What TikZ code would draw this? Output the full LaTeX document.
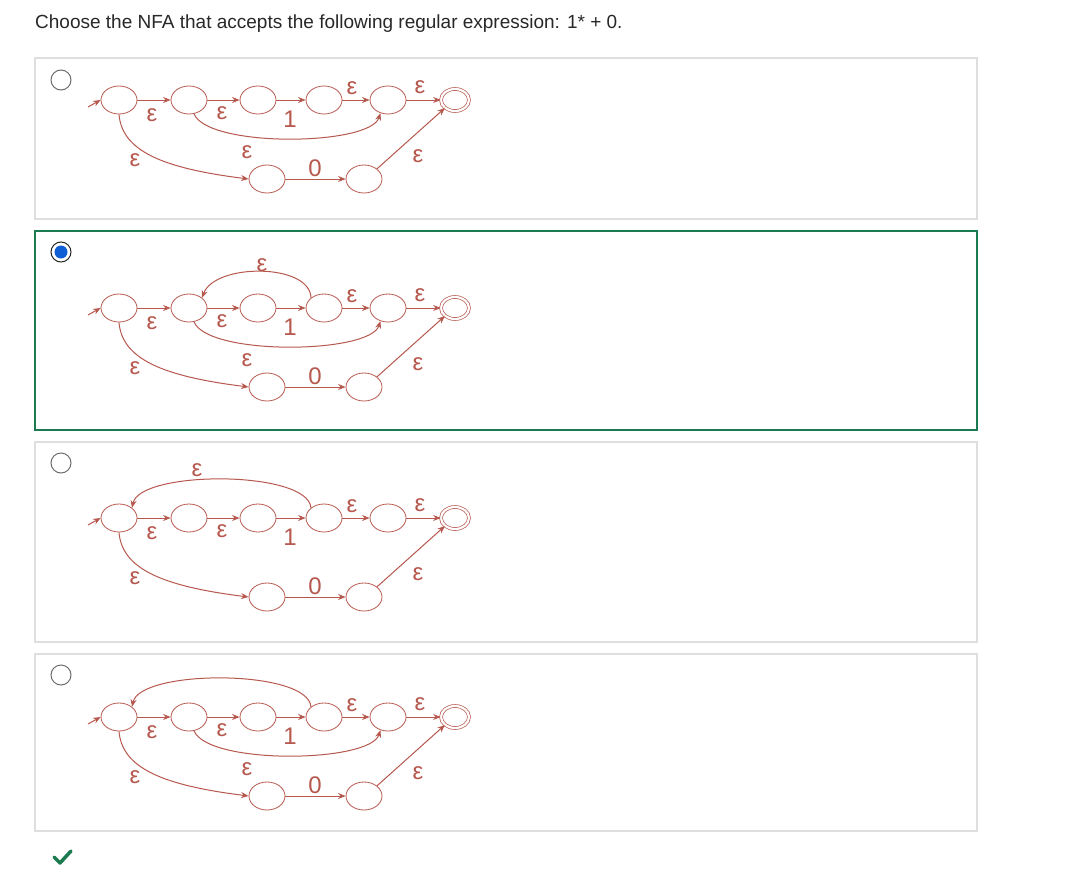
\documentclass[tikz,border=0pt]{standalone}
\usepackage{fontspec}
\setmainfont{Liberation Sans}
\usetikzlibrary{shapes.geometric,arrows.meta}
\definecolor{nfa}{RGB}{183,88,78}
\definecolor{boxgray}{RGB}{222,222,222}
\definecolor{okgreen}{RGB}{27,122,80}
\definecolor{radiogray}{RGB}{110,110,110}
\definecolor{radioblue}{RGB}{16,94,214}
\definecolor{txt}{RGB}{40,40,40}
\tikzset{
  st/.style={draw=nfa,line width=0.8pt,ellipse,minimum width=36pt,minimum height=28pt,inner sep=0pt},
  acc/.style={draw=nfa,line width=0.7pt,ellipse,double=white,double distance=2.2pt,minimum width=28pt,minimum height=22pt,inner sep=0pt},
  tr/.style={draw=nfa,line width=1pt,-{Stealth[length=7.5pt,width=6pt]}},
  lab/.style={text=nfa,font=\fontsize{24}{24}\selectfont,inner sep=0pt},
  optbox/.style={draw=boxgray,line width=1.2pt},
  radio/.style={circle,draw=radiogray,line width=1pt,minimum size=20pt,inner sep=0pt,fill=white},
}
\newcommand{\nfabase}[2]{%
  \begin{scope}[shift={(0,#2)}]
    \node[st] (#1q0) at (119,0) {};
    \node[st] (#1q1) at (189,0) {};
    \node[st] (#1q2) at (258,0) {};
    \node[st] (#1q3) at (324,0) {};
    \node[st] (#1q4) at (388,0) {};
    \node[acc] (#1q5) at (455,0) {};
    \node[st] (#1q6) at (267,79) {};
    \node[st] (#1q7) at (364,79) {};
    \coordinate (#1s) at (88,7);
    \draw[tr] (#1s) -- (#1q0.west);
    \draw[tr] (#1q0) -- (#1q1);
    \draw[tr] (#1q1) -- (#1q2);
    \draw[tr] (#1q2) -- (#1q3);
    \draw[tr] (#1q3) -- (#1q4);
    \draw[tr] (#1q4) -- (#1q5);
    \draw[tr] (#1q6) -- (#1q7);
    \draw[tr] (#1q7.north east) -- (#1q5.south west);
    \draw[tr] (#1q0.south) .. controls (122,50) and (160,68) .. (#1q6.west);
    \node[lab] (#1l01) at (152,15) {ε};
    \node[lab] (#1l12) at (222,13) {ε};
    \node[lab] (#1l23) at (290,19) {1};
    \node[lab] (#1l34) at (352,-12) {ε};
    \node[lab] (#1l45) at (420,-13) {ε};
    \node[lab] (#1l06) at (135,60) {ε};
    \node[lab] (#1l67) at (315,68) {0};
    \node[lab] (#1l75) at (418,56) {ε};
  \end{scope}}
\newcommand{\nfabypass}[2]{%
  \begin{scope}[shift={(0,#2)}]
    \draw[tr] (#1q1.-70) .. controls (208,48) and (370,46) .. (#1q4.-120);
    \node[lab] (#1lby) at (247,52) {ε};
  \end{scope}}
\begin{document}
\begin{tikzpicture}[x=1pt,y=-1pt]
\useasboundingbox (0,0) rectangle (1074,891);
\fill[white] (0,0) rectangle (1074,891);
\node[anchor=west,text=txt,font=\fontsize{19}{19}\selectfont,inner sep=0pt] (title) at (35,24) {Choose the NFA that accepts the following regular expression: 1* + 0.};
% option boxes
\draw[optbox] (35,58) rectangle (977,219);
\draw[draw=okgreen,line width=1.5pt] (35,231) rectangle (977,430);
\draw[optbox] (35,442) rectangle (977,642);
\draw[optbox] (35,654) rectangle (977,831);
% radio buttons
\node[radio] (r1) at (61,80) {};
\node[radio,draw=txt] (r2) at (61,252) {};
\fill[radioblue] (r2.center) circle (6.5pt);
\node[radio] (r3) at (61,463) {};
\node[radio] (r4) at (61,675) {};
% diagram 1
\nfabase{a}{100}
\nfabypass{a}{100}
% diagram 2
\nfabase{b}{308}
\nfabypass{b}{308}
\draw[tr] (bq3.north west) .. controls (310,263) and (215,263) .. (bq1.north east);
\node[lab] (blloop) at (262,265) {ε};
% diagram 3
\nfabase{c}{518}
\draw[tr] (cq3.north west) .. controls (308,470) and (140,470) .. (cq0.north east);
\node[lab] (clloop) at (197,470) {ε};
% diagram 4
\nfabase{d}{717}
\nfabypass{d}{717}
\draw[tr] (dq3.north west) .. controls (308,669) and (140,669) .. (dq0.north east);
% check mark
\coordinate (ck1) at (54,857);
\coordinate (ck2) at (60,863);
\coordinate (ck3) at (71,851);
\draw[okgreen,line width=3.5pt,line cap=round,line join=round] (ck1) -- (ck2) -- (ck3);
\end{tikzpicture}
\end{document}
